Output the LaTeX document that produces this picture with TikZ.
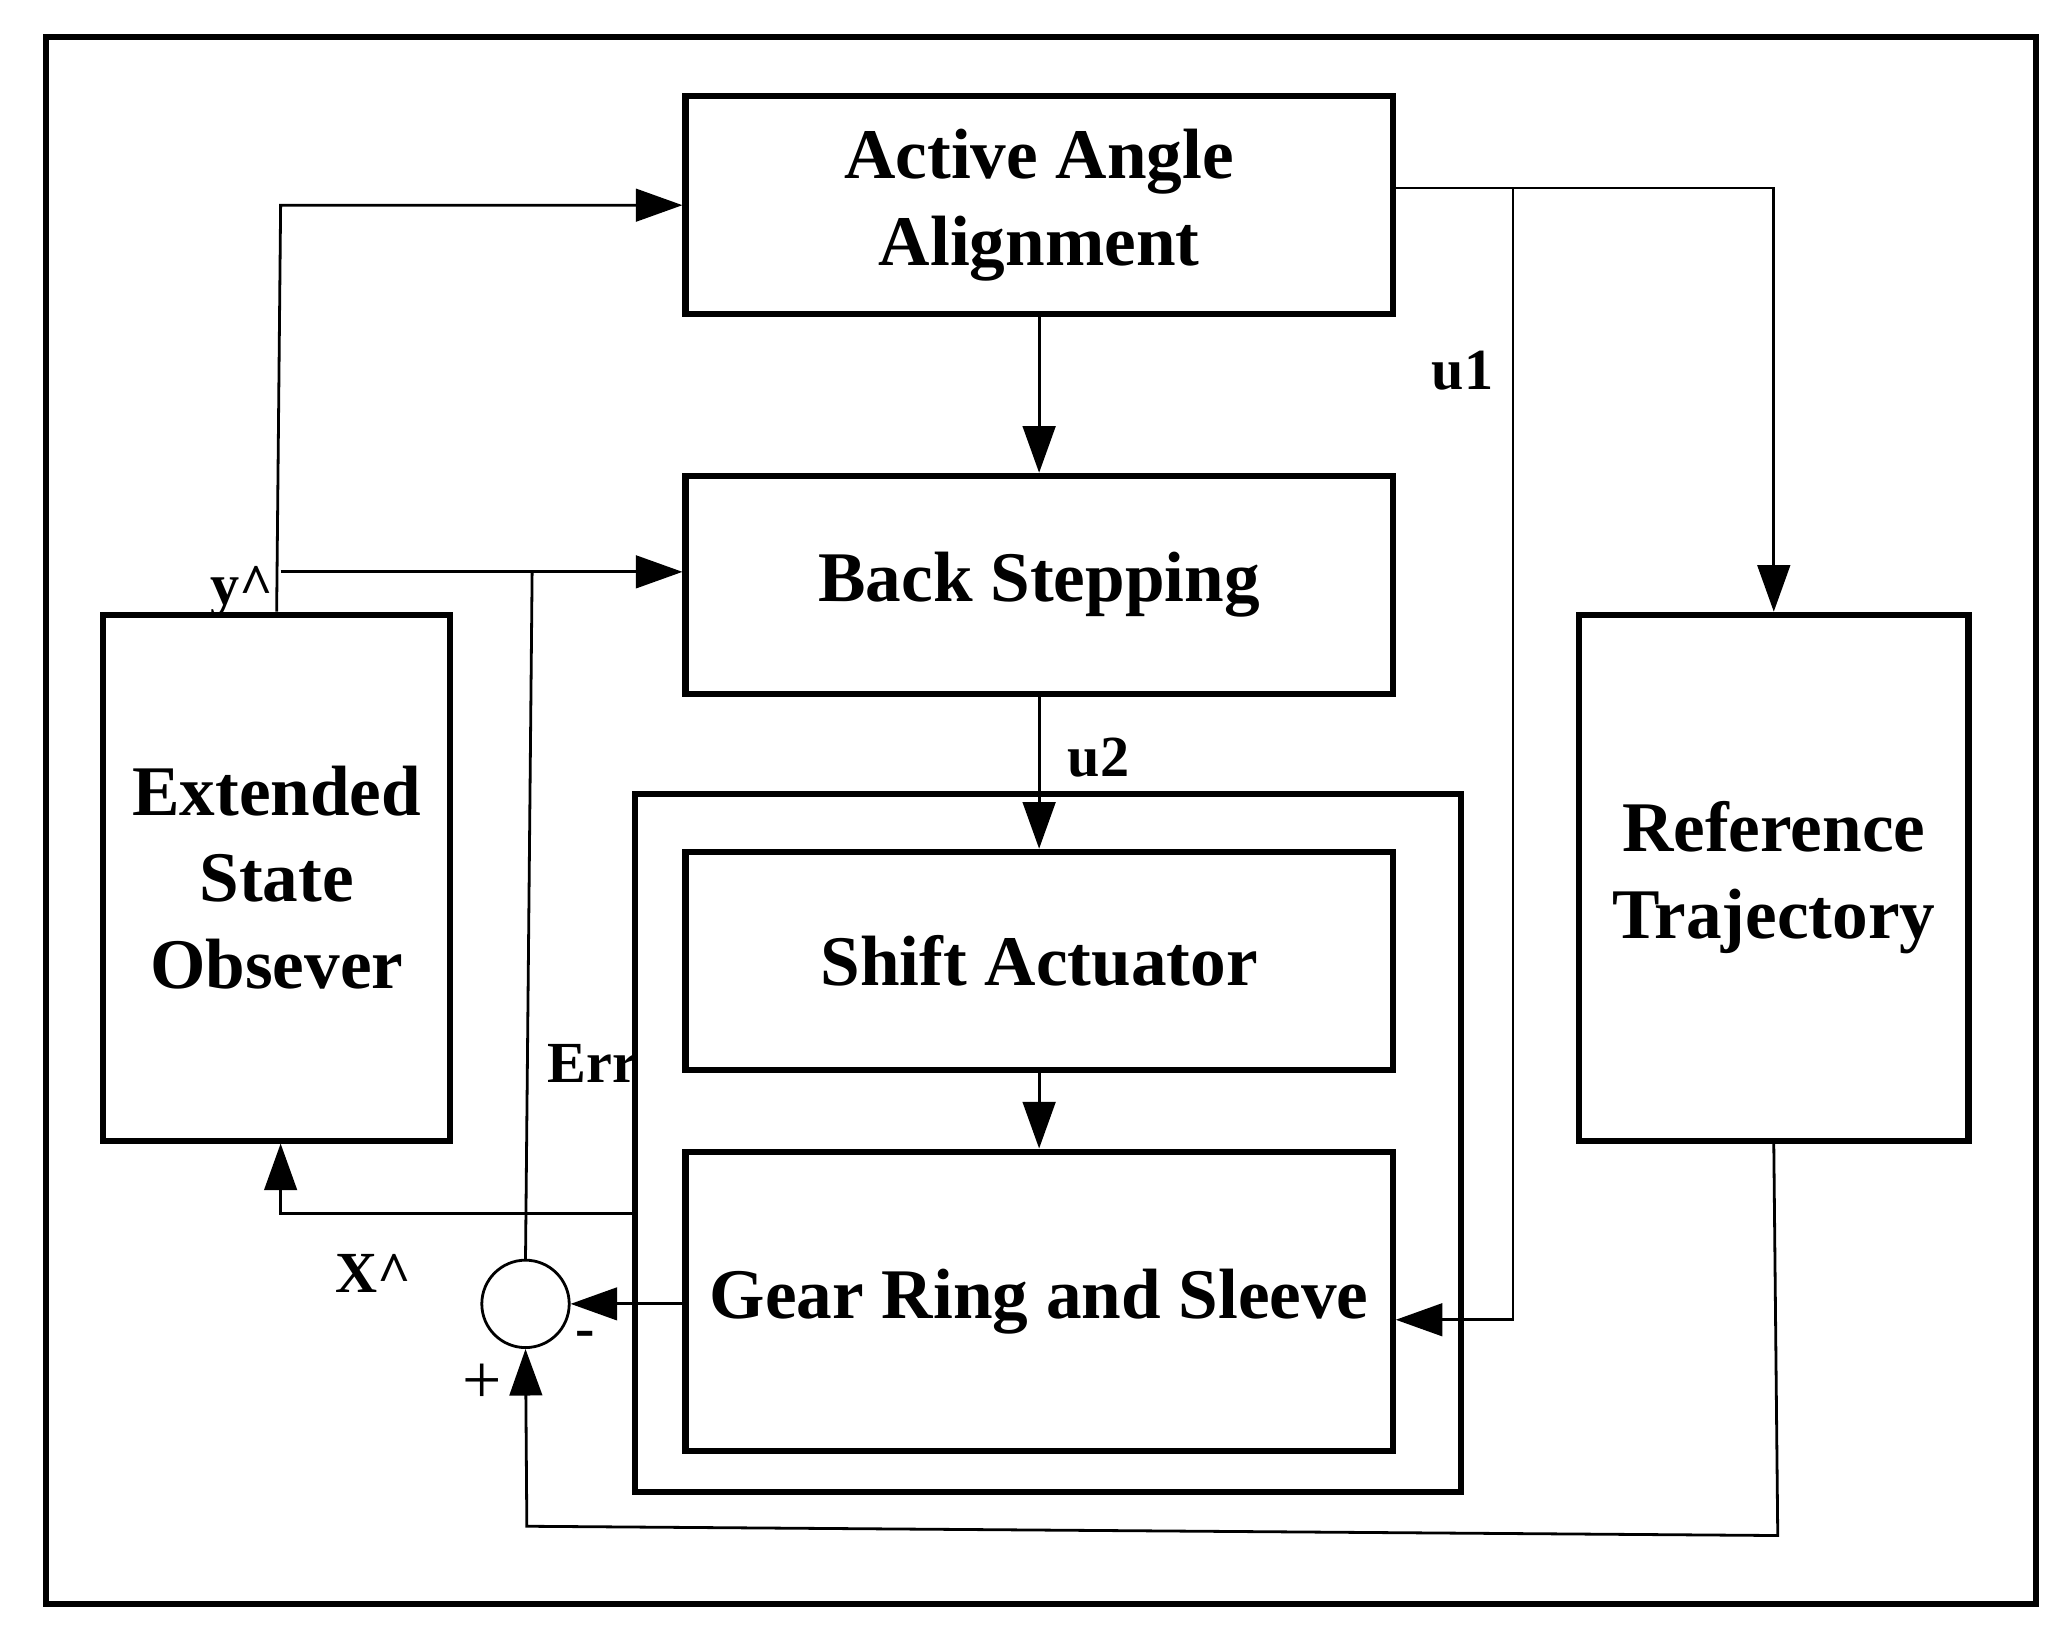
\documentclass[tikz,border=0pt]{standalone}
\usepackage{fontspec}
\setmainfont{Liberation Serif}
\usetikzlibrary{arrows.meta}
\usetikzlibrary{calc}
\tikzstyle{blk}=[draw,line width=1.3pt,inner sep=0pt,align=center,font=\fontsize{15.3}{18.5}\selectfont\bfseries]
\tikzstyle{lbl}=[font=\fontsize{12.5}{15}\selectfont\bfseries]
\tikzstyle{sig}=[line width=.6pt,>/.tip={Triangle[length=10pt,width=7pt]}]
\tikzstyle{sigs}=[sig,->]
\begin{document}
\begin{tikzpicture}[x=0.01cm,y=-0.01cm]
				\useasboundingbox (0,0) rectangle (1560,1242);
				\draw[line width=1.3pt] (35,28) rectangle (1538,1212);
				\node[blk] (aaa) at (785,155) [minimum width=5.34cm,minimum height=1.65cm] {Active Angle\\Alignment};
				\node[blk] (bs)  at (785,442) [minimum width=5.34cm,minimum height=1.65cm] {Back Stepping};
				\draw[line width=1.3pt] (480,600) rectangle (1104,1127);
				\coordinate (plant) at (480,917);
				\node[blk] (sa)  at (785,726) [minimum width=5.34cm,minimum height=1.65cm] {Shift Actuator};
				\node[blk] (gr)  at (785,983) [minimum width=5.34cm,minimum height=2.26cm] {Gear Ring and Sleeve};
				\node[blk] (eso) at (209,663) [minimum width=2.62cm,minimum height=3.97cm] {Extended\\State\\Obsever};
				\node[blk] (rt)  at (1340,663) [minimum width=2.94cm,minimum height=3.97cm] {Reference\\Trajectory};
				\node[draw,circle,line width=.6pt,minimum size=.66cm,inner sep=0pt] (sum) at (397,985) {};
				\draw[sigs] (eso.north) -- (212,155) -- (aaa.west |- 0,155);
				\draw[sigs] (212,432) -- (bs.west |- 0,432);
				\draw[sigs] (aaa) -- (bs);
				\draw[sigs] (bs) -- (sa);
				\draw[sigs] (sa) -- (gr);
				\draw[sigs] (aaa.east |- 0,142) -- (1340,142) -- (rt.north -| 1340,0);
				\draw[sigs] (1143,142) -- (1143,997) -- (gr.east |- 0,997);
				\draw[sigs] (plant) -- (212,917) -- (eso.south -| 212,0);
				\draw[sigs] (gr.west |- sum) -- (sum);
				\draw[sig] (sum.north) -- (402,432);
				\draw[sigs] (rt.south) -- (1343,1160) -- (398,1153) -- (sum.south);
				\node[lbl] at (183,447) {y\^{}};
				\node[lbl] at (830,572) {u2};
				\node[lbl] at (1105,280) {u1};
				\node[lbl] at (282,962) {X\^{}};
				\node[lbl] at (448,803) {Err};
				\node[lbl] at (442,1012) {-};
				\node[font=\fontsize{15}{18}\selectfont] at (364,1045) {+};
				\end{tikzpicture}
\end{document}
